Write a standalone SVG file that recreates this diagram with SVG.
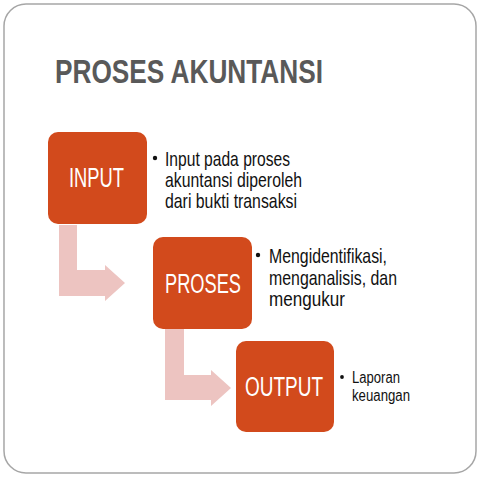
<svg xmlns="http://www.w3.org/2000/svg" width="480" height="480" viewBox="0 0 480 480">
<style>
.frame{fill:#ffffff;stroke:#a6a6a6;stroke-width:1.5}
.box{fill:#d24a1c}
.arrow{fill:#edc4c1}
.title{font-family:"Liberation Sans",Arial,sans-serif;font-weight:bold;font-size:34px;fill:#595959}
.lbl{font-family:"Liberation Sans",Arial,sans-serif;font-size:27px;fill:#ffffff}
.txt{font-family:"Liberation Sans",Arial,sans-serif;font-size:21px;fill:#111111}
.sm{font-family:"Liberation Sans",Arial,sans-serif;font-size:16px;fill:#111111}
</style>
<rect class="frame" x="4" y="4" width="472" height="469" rx="22"/>
<text class="title" x="55" y="83" textLength="268" lengthAdjust="spacingAndGlyphs">PROSES AKUNTANSI</text>
<g id="connectors">
<polygon class="arrow" points="59,225 77,225 77,270 105,270 105,265 125,283 105,301 105,296 59,296"/>
<polygon class="arrow" points="165,329 184,329 184,375 211,375 211,370 231,388 211,406 211,400 165,400"/>
</g>
<g id="input">
<rect class="box" x="48" y="132" width="99" height="92" rx="10"/>
<text class="lbl" x="69" y="187" textLength="55" lengthAdjust="spacingAndGlyphs">INPUT</text>
</g>
<g id="input-desc">
<circle cx="155" cy="158" r="2.2" fill="#111111"/>
<text class="txt" x="165" y="166" textLength="125" lengthAdjust="spacingAndGlyphs">Input pada proses</text>
<text class="txt" x="165" y="187" textLength="137" lengthAdjust="spacingAndGlyphs">akuntansi diperoleh</text>
<text class="txt" x="165" y="208" textLength="132" lengthAdjust="spacingAndGlyphs">dari bukti transaksi</text>
</g>
<g id="proses">
<rect class="box" x="153" y="237" width="99" height="92" rx="10"/>
<text class="lbl" x="165" y="293" textLength="76" lengthAdjust="spacingAndGlyphs">PROSES</text>
</g>
<g id="proses-desc">
<circle cx="258" cy="255" r="2.2" fill="#111111"/>
<text class="txt" x="269" y="263" textLength="118" lengthAdjust="spacingAndGlyphs">Mengidentifikasi,</text>
<text class="txt" x="269" y="285" textLength="128" lengthAdjust="spacingAndGlyphs">menganalisis, dan</text>
<text class="txt" x="269" y="306" textLength="76" lengthAdjust="spacingAndGlyphs">mengukur</text>
</g>
<g id="output">
<rect class="box" x="236" y="341" width="98" height="91" rx="10"/>
<text class="lbl" x="245" y="396" textLength="78" lengthAdjust="spacingAndGlyphs">OUTPUT</text>
</g>
<g id="output-desc">
<circle cx="342" cy="377" r="1.9" fill="#111111"/>
<text class="sm" x="352" y="383" textLength="48" lengthAdjust="spacingAndGlyphs">Laporan</text>
<text class="sm" x="352" y="401" textLength="58" lengthAdjust="spacingAndGlyphs">keuangan</text>
</g>
</svg>
